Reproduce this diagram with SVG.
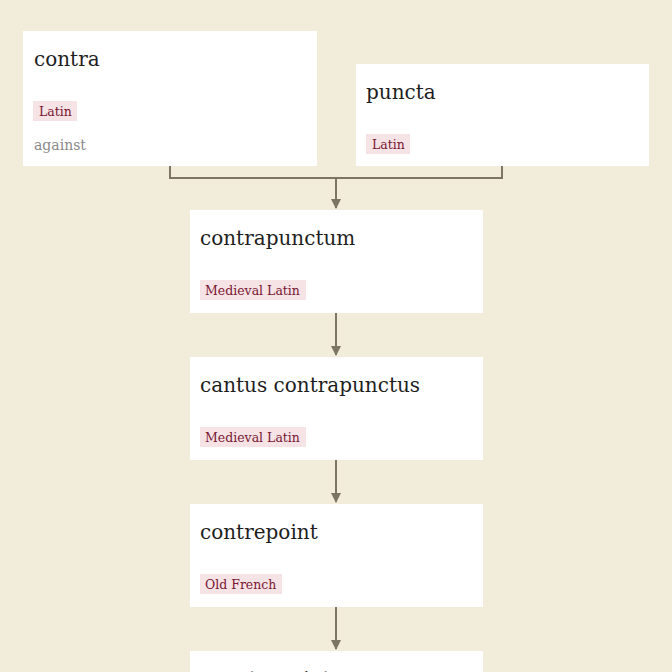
<svg xmlns="http://www.w3.org/2000/svg" width="672" height="672" viewBox="0 0 672 672">
<style>
.node{fill:#ffffff}
.title{font-family:"DejaVu Serif","Liberation Serif",serif;font-size:20px;fill:#1e1e1e}
.tagbg{fill:#f5e3e6}
.tag{font-family:"DejaVu Serif","Liberation Serif",serif;font-size:12.5px;fill:#7a1632}
.gloss{font-family:"DejaVu Serif","Liberation Serif",serif;font-size:14px;fill:#8a8a8a}
.edge{fill:none;stroke:#7b7562;stroke-width:2}
</style>
<defs>
<marker id="arr" viewBox="0 0 10 10" refX="9" refY="5" markerWidth="5" markerHeight="5" orient="auto" markerUnits="strokeWidth">
<path d="M0,0 L10,5 L0,10 z" fill="#7b7562"/>
</marker>
</defs>
<rect width="672" height="672" fill="#f2ecdb"/>
<g id="connectors">
<path class="edge" d="M170,166 V178 H502 V166"/>
<path class="edge" d="M336,178 V208" marker-end="url(#arr)"/>
<path class="edge" d="M336,313 V355" marker-end="url(#arr)"/>
<path class="edge" d="M336,460 V502" marker-end="url(#arr)"/>
<path class="edge" d="M336,607 V649" marker-end="url(#arr)"/>
</g>
<g id="node-contra">
<rect class="node" x="23" y="31" width="294" height="135"/>
<text class="title" x="34" y="66">contra</text>
<rect class="tagbg" x="33" y="101" width="44" height="20"/>
<text class="tag" x="39" y="116">Latin</text>
<text class="gloss" x="34" y="150">against</text>
</g>
<g id="node-puncta">
<rect class="node" x="356" y="64" width="293" height="102"/>
<text class="title" x="366" y="99">puncta</text>
<rect class="tagbg" x="366" y="134" width="44" height="20"/>
<text class="tag" x="372" y="149">Latin</text>
</g>
<g id="node-contrapunctum">
<rect class="node" x="190" y="210" width="293" height="103"/>
<text class="title" x="200" y="245">contrapunctum</text>
<rect class="tagbg" x="200" y="280" width="106" height="20"/>
<text class="tag" x="205" y="295">Medieval Latin</text>
</g>
<g id="node-cantus">
<rect class="node" x="190" y="357" width="293" height="103"/>
<text class="title" x="200" y="392">cantus contrapunctus</text>
<rect class="tagbg" x="200" y="427" width="106" height="20"/>
<text class="tag" x="205" y="442">Medieval Latin</text>
</g>
<g id="node-contrepoint">
<rect class="node" x="190" y="504" width="293" height="103"/>
<text class="title" x="200" y="539">contrepoint</text>
<rect class="tagbg" x="200" y="574" width="82" height="20"/>
<text class="tag" x="205" y="589">Old French</text>
</g>
<g id="node-counterpoint">
<rect class="node" x="190" y="651" width="293" height="103"/>
<text class="title" x="200" y="686">counterpoint</text>
</g>
</svg>
